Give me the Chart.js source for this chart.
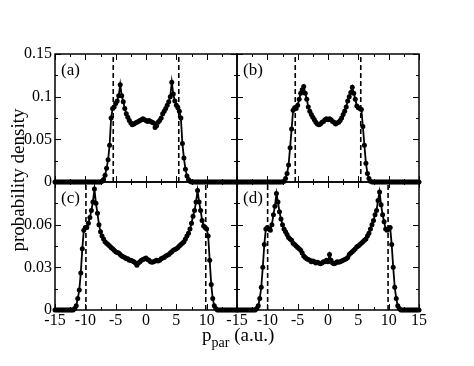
<!DOCTYPE html>
<html>
<head>
<meta charset="utf-8">
<script src="https://cdn.jsdelivr.net/npm/chart.js@4.4.1/dist/chart.umd.min.js"></script>
<style>
  html, body { margin: 0; padding: 0; background: #fff; }
  #wrap { position: relative; width: 474px; height: 366px; background: #fff; }
  #wrap canvas { position: absolute; left: 0; top: 0; }
</style>
</head>
<body>
<div id="wrap">
  <canvas id="panelA" width="474" height="366"></canvas>
  <canvas id="panelB" width="474" height="366"></canvas>
  <canvas id="panelC" width="474" height="366"></canvas>
  <canvas id="panelD" width="474" height="366"></canvas>
</div>
<script>
// momentum grid (a.u.), rows of 2 units
const pPar = [
  -15, -14.75, -14.5, -14.25, -14, -13.75, -13.5, -13.25,
  -13, -12.75, -12.5, -12.25, -12, -11.75, -11.5, -11.25,
  -11, -10.75, -10.5, -10.25, -10, -9.75, -9.5, -9.25,
  -9, -8.75, -8.5, -8.25, -8, -7.75, -7.5, -7.25,
  -7, -6.75, -6.5, -6.25, -6, -5.75, -5.5, -5.25,
  -5, -4.75, -4.5, -4.25, -4, -3.75, -3.5, -3.25,
  -3, -2.75, -2.5, -2.25, -2, -1.75, -1.5, -1.25,
  -1, -0.75, -0.5, -0.25, 0, 0.25, 0.5, 0.75,
  1, 1.25, 1.5, 1.75, 2, 2.25, 2.5, 2.75,
  3, 3.25, 3.5, 3.75, 4, 4.25, 4.5, 4.75,
  5, 5.25, 5.5, 5.75, 6, 6.25, 6.5, 6.75,
  7, 7.25, 7.5, 7.75, 8, 8.25, 8.5, 8.75,
  9, 9.25, 9.5, 9.75, 10, 10.25, 10.5, 10.75,
  11, 11.25, 11.5, 11.75, 12, 12.25, 12.5, 12.75,
  13, 13.25, 13.5, 13.75, 14, 14.25, 14.5, 14.75,
  15
];

const densA = [
  0, 0, 0, 0, 0, 0, 0, 0,
  0, 0, 0, 0, 0, 0, 0, 0,
  0, 0, 0, 0, 0, 0, 0, 0,
  0, 0, 0, 0, 0, 0, 0, 0.001,
  0.003, 0.008, 0.016, 0.026, 0.043, 0.075, 0.086, 0.088,
  0.092, 0.095, 0.101, 0.114, 0.101, 0.094, 0.086, 0.08,
  0.076, 0.072, 0.069, 0.067, 0.068, 0.069, 0.07, 0.071,
  0.072, 0.073, 0.074, 0.073, 0.072, 0.071, 0.072, 0.071,
  0.07, 0.069, 0.064, 0.066, 0.07, 0.072, 0.075, 0.08,
  0.083, 0.086, 0.09, 0.094, 0.1, 0.117, 0.103, 0.095,
  0.09, 0.087, 0.083, 0.075, 0.045, 0.028, 0.015, 0.007,
  0.003, 0.001, 0, 0, 0, 0, 0, 0,
  0, 0, 0, 0, 0, 0, 0, 0,
  0, 0, 0, 0, 0, 0, 0, 0,
  0, 0, 0, 0, 0, 0, 0, 0,
  0
];

const densB = [
  0, 0, 0, 0, 0, 0, 0, 0,
  0, 0, 0, 0, 0, 0, 0, 0,
  0, 0, 0, 0, 0, 0, 0, 0,
  0, 0, 0, 0, 0, 0, 0, 0.001,
  0.004, 0.01, 0.02, 0.04, 0.062, 0.084, 0.087, 0.086,
  0.09, 0.097, 0.104, 0.108, 0.112, 0.104, 0.097, 0.088,
  0.083, 0.079, 0.076, 0.073, 0.07, 0.068, 0.067, 0.068,
  0.07, 0.071, 0.073, 0.074, 0.073, 0.074, 0.073, 0.071,
  0.07, 0.068, 0.069, 0.07, 0.072, 0.075, 0.079, 0.083,
  0.088, 0.095, 0.1, 0.105, 0.111, 0.104, 0.097, 0.089,
  0.087, 0.086, 0.085, 0.065, 0.043, 0.022, 0.01, 0.004,
  0.001, 0, 0, 0, 0, 0, 0, 0,
  0, 0, 0, 0, 0, 0, 0, 0,
  0, 0, 0, 0, 0, 0, 0, 0,
  0, 0, 0, 0, 0, 0, 0, 0,
  0
];

const densC = [
  0, 0, 0, 0, 0, 0, 0, 0,
  0, 0, 0, 0, 0, 0.001, 0.003, 0.008,
  0.014, 0.026, 0.043, 0.056, 0.058, 0.058, 0.061, 0.065,
  0.07, 0.076, 0.085, 0.075, 0.068, 0.06, 0.055, 0.052,
  0.05, 0.048, 0.047, 0.046, 0.045, 0.044, 0.043, 0.042,
  0.041, 0.0405, 0.04, 0.039, 0.038, 0.0375, 0.037, 0.036,
  0.036, 0.035, 0.035, 0.0345, 0.034, 0.033, 0.0315, 0.033,
  0.034, 0.035, 0.0355, 0.036, 0.0365, 0.0355, 0.035, 0.034,
  0.0335, 0.034, 0.0345, 0.035, 0.0345, 0.035, 0.036, 0.0365,
  0.037, 0.038, 0.0385, 0.039, 0.04, 0.041, 0.042, 0.0425,
  0.043, 0.044, 0.045, 0.046, 0.047, 0.048, 0.05, 0.052,
  0.054, 0.057, 0.061, 0.066, 0.07, 0.076, 0.084, 0.076,
  0.07, 0.063, 0.059, 0.058, 0.057, 0.052, 0.035, 0.018,
  0.008, 0.003, 0.001, 0, 0, 0, 0, 0,
  0, 0, 0, 0, 0, 0, 0, 0,
  0
];

const densD = [
  0, 0, 0, 0, 0, 0, 0, 0,
  0, 0, 0, 0, 0, 0.001, 0.003, 0.008,
  0.016, 0.03, 0.046, 0.057, 0.058, 0.057, 0.056, 0.06,
  0.067, 0.073, 0.082, 0.076, 0.069, 0.064, 0.06, 0.057,
  0.055, 0.053, 0.051, 0.05, 0.049, 0.047, 0.046, 0.045,
  0.044, 0.043, 0.042, 0.04, 0.038, 0.037, 0.036, 0.0355,
  0.035, 0.034, 0.0345, 0.034, 0.033, 0.0335, 0.033, 0.0325,
  0.033, 0.034, 0.034, 0.035, 0.034, 0.039, 0.035, 0.033,
  0.0325, 0.033, 0.034, 0.0335, 0.034, 0.0345, 0.035, 0.0355,
  0.036, 0.037, 0.039, 0.04, 0.041, 0.042, 0.043, 0.0445,
  0.045, 0.046, 0.047, 0.048, 0.049, 0.05, 0.052, 0.054,
  0.057, 0.06, 0.063, 0.067, 0.07, 0.077, 0.083, 0.074,
  0.067, 0.062, 0.057, 0.056, 0.057, 0.058, 0.046, 0.03,
  0.016, 0.008, 0.003, 0.001, 0, 0, 0, 0,
  0, 0, 0, 0, 0, 0, 0, 0,
  0
];

// dashed vertical markers
const dashA = [-5.4, 5.4];
const dashB = [-5.4, 5.4];
const dashC = [-9.9, 9.85];
const dashD = [-9.95, 9.9];

// tick labels
const yTicksTop = [0, 0.05, 0.1, 0.15];
const yTicksBottom = [0, 0.03, 0.06];
const xTicksC = [-15, -10, -5, 0, 5, 10];
const xTicksD = [-15, -10, -5, 0, 5, 10, 15];

const SERIF = '"Liberation Serif", "Times New Roman", serif';

// frame + inward ticks on all four sides
const frameTicks = {
  id: 'frameTicks',
  beforeDatasetsDraw(chart) {
    const { ctx, chartArea: a, scales: { x, y } } = chart;
    const o = chart.options.plugins.frameTicks;
    ctx.save();
    ctx.strokeStyle = '#000';
    ctx.lineWidth = 1;
    ctx.beginPath();
    for (let k = 0; k <= 12; k++) {
      const px = Math.round(x.getPixelForValue(-15 + k * 2.5)) + 0.5;
      const len = k % 2 === 0 ? 6 : 3;
      ctx.moveTo(px, a.bottom); ctx.lineTo(px, a.bottom - len);
      ctx.moveTo(px, a.top); ctx.lineTo(px, a.top + len);
    }
    for (let k = 0; k * o.yMinor <= o.yMax + 1e-9; k++) {
      const py = Math.round(y.getPixelForValue(k * o.yMinor)) + 0.5;
      const len = k % 2 === 0 ? 6 : 3;
      ctx.moveTo(a.left, py); ctx.lineTo(a.left + len, py);
      ctx.moveTo(a.right, py); ctx.lineTo(a.right - len, py);
    }
    ctx.stroke();
    ctx.lineWidth = 1.5;
    ctx.strokeRect(a.left, a.top, a.width, a.height);
    ctx.fillStyle = '#000';
    ctx.font = '17px ' + SERIF;
    ctx.textAlign = 'left';
    ctx.textBaseline = 'alphabetic';
    ctx.fillText(o.tag, a.left + 6, a.top + 21);
    ctx.restore();
  }
};

// axis titles, drawn once on the last panel
const axisTitles = {
  id: 'axisTitles',
  afterDraw(chart) {
    const ctx = chart.ctx;
    ctx.save();
    ctx.fillStyle = '#000';
    ctx.textBaseline = 'alphabetic';
    ctx.translate(24, 180);
    ctx.rotate(-Math.PI / 2);
    ctx.font = '19px ' + SERIF;
    ctx.textAlign = 'center';
    ctx.fillText('probability density', 0, 0);
    ctx.restore();

    ctx.save();
    ctx.fillStyle = '#000';
    ctx.textAlign = 'left';
    ctx.font = '19px ' + SERIF;
    let xPos = 202;
    ctx.fillText('p', xPos, 341);
    xPos += ctx.measureText('p').width;
    ctx.font = '14px ' + SERIF;
    ctx.fillText('par', xPos, 347);
    xPos += ctx.measureText('par').width;
    ctx.font = '19px ' + SERIF;
    ctx.fillText(' (a.u.)', xPos, 341);
    ctx.restore();
  }
};

function makePanel(id, values, dashes, cfg) {
  const pad = {
    left: cfg.yTicks ? cfg.box.left - 45 : cfg.box.left,
    top: cfg.box.top,
    right: 474 - cfg.box.right,
    bottom: cfg.xTicks ? 366 - cfg.box.bottom - 25 : 366 - cfg.box.bottom
  };
  const datasets = [{
    data: pPar.map((p, i) => ({ x: p, y: values[i] })),
    borderColor: '#000',
    borderWidth: 1.8,
    pointRadius: 2.5,
    pointBackgroundColor: '#000',
    pointBorderWidth: 0,
    tension: 0,
    clip: false
  }];
  dashes.forEach(d => {
    datasets.push({
      data: [{ x: d, y: 0 }, { x: d, y: cfg.yMax }],
      borderColor: '#000',
      borderWidth: 1.6,
      borderDash: [5, 3],
      pointRadius: 0,
      clip: false
    });
  });
  const tickFont = { family: SERIF, size: 16 };
  return new Chart(document.getElementById(id), {
    type: 'line',
    data: { datasets: datasets },
    options: {
      responsive: false,
      animation: false,
      devicePixelRatio: 1,
      layout: { padding: pad },
      plugins: {
        legend: { display: false },
        tooltip: { enabled: false },
        frameTicks: { tag: cfg.tag, yMax: cfg.yMax, yMinor: cfg.yMinor }
      },
      scales: {
        x: {
          type: 'linear', min: -15, max: 15,
          display: !!cfg.xTicks,
          grid: { display: false, drawTicks: false },
          border: { display: false },
          afterFit(s) { s.height = cfg.xTicks ? 25 : 0; },
          afterBuildTicks(s) { if (cfg.xTicks) s.ticks = cfg.xTicks.map(v => ({ value: v })); },
          ticks: { autoSkip: false, maxRotation: 0, padding: 1, color: '#000', font: tickFont,
                   callback: v => String(v) }
        },
        y: {
          type: 'linear', min: 0, max: cfg.yMax,
          display: !!cfg.yTicks,
          grid: { display: false, drawTicks: false },
          border: { display: false },
          afterFit(s) { s.width = cfg.yTicks ? 45 : 0; },
          afterBuildTicks(s) { if (cfg.yTicks) s.ticks = cfg.yTicks.map(v => ({ value: v })); },
          ticks: { autoSkip: false, padding: 3, color: '#000', font: tickFont,
                   callback: v => String(v) }
        }
      }
    },
    plugins: cfg.extra ? [frameTicks, cfg.extra] : [frameTicks]
  });
}

makePanel('panelA', densA, dashA, {
  tag: '(a)', yMax: 0.15, yMinor: 0.025, yTicks: yTicksTop, xTicks: null,
  box: { left: 55, top: 54, right: 237, bottom: 182 }
});
makePanel('panelB', densB, dashB, {
  tag: '(b)', yMax: 0.15, yMinor: 0.025, yTicks: null, xTicks: null,
  box: { left: 237, top: 54, right: 419, bottom: 182 }
});
makePanel('panelC', densC, dashC, {
  tag: '(c)', yMax: 0.09, yMinor: 0.015, yTicks: yTicksBottom, xTicks: xTicksC,
  box: { left: 55, top: 182, right: 237, bottom: 310 }
});
makePanel('panelD', densD, dashD, {
  tag: '(d)', yMax: 0.09, yMinor: 0.015, yTicks: null, xTicks: xTicksD,
  box: { left: 237, top: 182, right: 419, bottom: 310 },
  extra: axisTitles
});
</script>
</body>
</html>
